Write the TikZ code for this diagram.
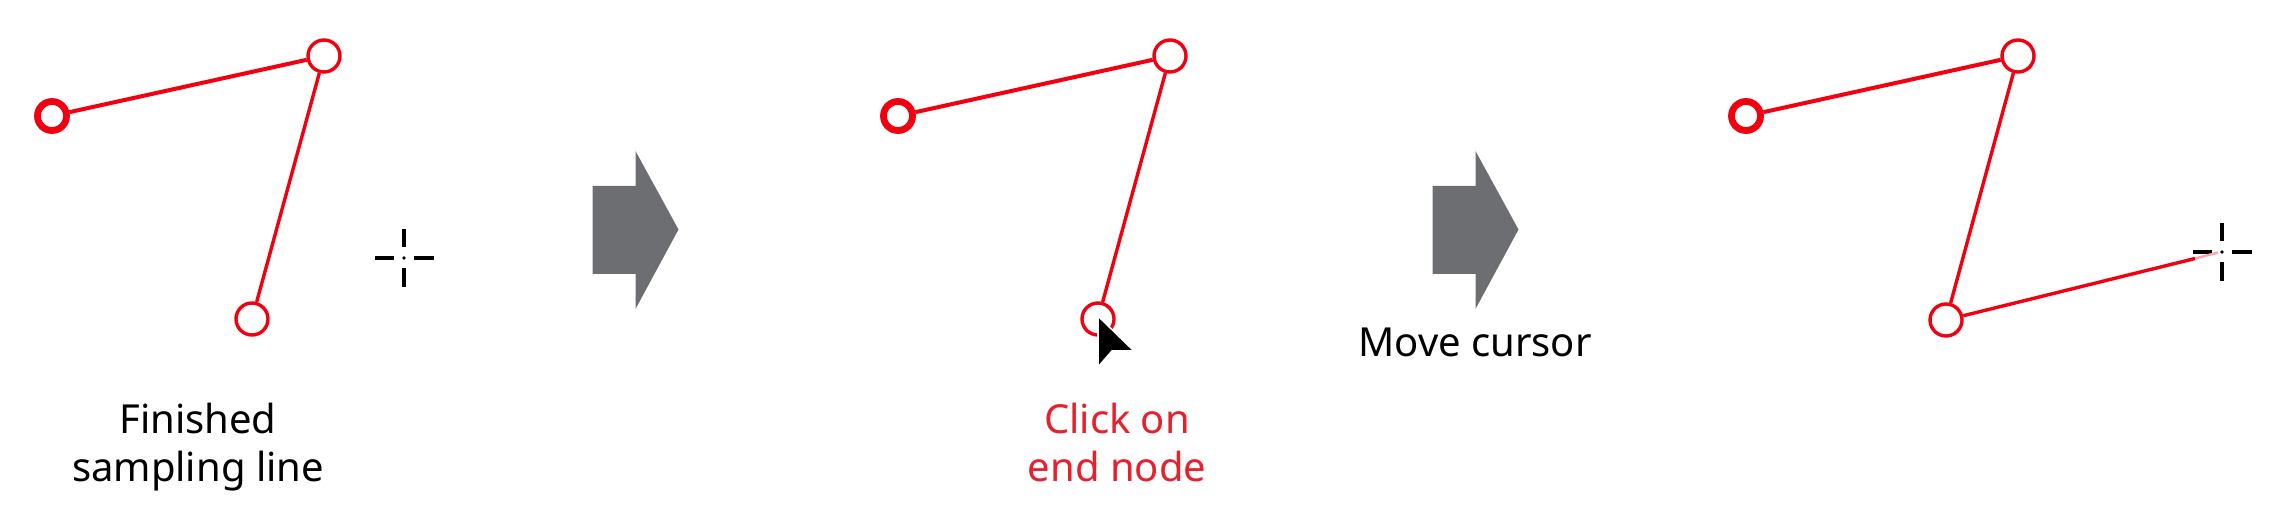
\documentclass[tikz,border=0pt]{standalone}
\usepackage{fontspec}
\setmainfont{Noto Sans}
\definecolor{nodered}{HTML}{F2000F}
\definecolor{labelred}{HTML}{E8202C}
\definecolor{arrowgrey}{HTML}{6D6E71}
\tikzset{
  x=0.5pt,y=-0.5pt,
  vertexnode/.style={circle,draw=nodered,fill=white,line width=1.7pt,minimum size=16pt,inner sep=0pt},
  startnode/.style={circle,draw=nodered,fill=white,line width=3.4pt,minimum size=14.5pt,inner sep=0pt},
  edgeline/.style={draw=nodered,line width=2pt},
  edgeline2/.style={draw=nodered,line width=1.7pt},
  label/.style={font=\fontsize{20}{24}\selectfont,align=center,text=black,inner sep=0pt},
  hair/.style={draw=black,line width=1.6pt},
  stagearrow/.style={fill=arrowgrey,draw=none},
}
\newcommand{\crosshair}[2]{%
  \begin{scope}[shift={(#1,#2)}]
    \draw[hair] (-29,0) -- (-10,0);
    \draw[hair] (10,0) -- (30,0);
    \draw[hair] (0,-29) -- (0,-11);
    \draw[hair] (0,10) -- (0,29);
    \fill (0,0) circle[radius=1.8];
  \end{scope}}
\newcommand{\stagearr}[1]{%
  \begin{scope}[shift={(#1,0)}]
    \fill[stagearrow] (0,186) -- (43,186) -- (43,151) -- (86,229.5) -- (43,309) -- (43,274) -- (0,274) -- cycle;
  \end{scope}}
\begin{document}
\begin{tikzpicture}
\useasboundingbox (0,0) rectangle (2280,528);
% group 1
\node[startnode] (a1) at (52,116) {};
\node[vertexnode] (b1) at (324,56) {};
\node[vertexnode] (c1) at (252,319) {};
\draw[edgeline] (a1) -- (b1);
\draw[edgeline2] (b1) -- (c1);
\crosshair{404}{258}
\stagearr{592.5}
\node[label] (t1) at (198,447) {Finished\\sampling line};
% group 2
\node[startnode] (a2) at (898,116) {};
\node[vertexnode] (b2) at (1170,56) {};
\node[vertexnode] (c2) at (1098,319) {};
\draw[edgeline] (a2) -- (b2);
\draw[edgeline2] (b2) -- (c2);
\draw[fill=black,draw=white,line width=0.8pt,line join=miter] (1098,316) -- (1134,351) -- (1112,351) -- (1098,367) -- cycle;
\stagearr{1432.5}
\node[label,anchor=base] (t2) at (1475,357) {Move cursor};
\node[label,text=labelred] (t3) at (1117,443) {Click on\\end node};
% group 3
\node[startnode] (a3) at (1746,116) {};
\node[vertexnode] (b3) at (2018,56) {};
\node[vertexnode] (c3) at (1946,320) {};
\draw[edgeline] (a3) -- (b3);
\draw[edgeline2] (b3) -- (c3);
\coordinate (e3) at (2195,258.5);
\coordinate (f3) at (2218,252.5);
\draw[edgeline2] (c3) -- (e3);
\crosshair{2222}{252}
\draw[draw=nodered!35,line width=1.2pt] (e3) -- (f3);
\end{tikzpicture}
\end{document}
